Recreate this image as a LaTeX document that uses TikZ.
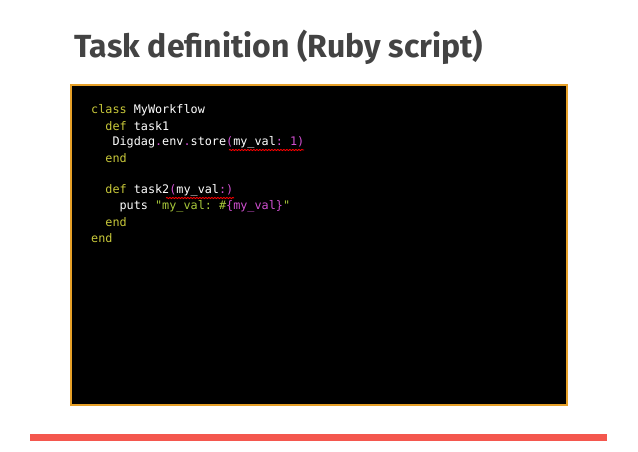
\documentclass[tikz,border=0pt]{standalone}
\usepackage{fontspec}
\setmainfont{Fira Sans}
\setmonofont{DejaVu Sans Mono}
\usetikzlibrary{decorations.pathmorphing}
\definecolor{kw}{HTML}{C9C93A}
\definecolor{mg}{HTML}{D04FD0}
\definecolor{st}{HTML}{A8C83A}
\definecolor{tt}{HTML}{434343}
\definecolor{bar}{HTML}{F4574E}
\newcommand{\K}[1]{\textcolor{kw}{#1}}
\newcommand{\M}[1]{\textcolor{mg}{#1}}
\newcommand{\Sg}[1]{\textcolor{st}{#1}}
\begin{document}
\begin{tikzpicture}[x=1pt,y=-1pt,
  code/.style={anchor=west,inner sep=0,text=white,font=\ttfamily\fontsize{11.8}{12}\selectfont},
  squig/.style={draw=red,line width=0.8pt,decorate,decoration={snake,amplitude=0.6pt,segment length=3pt}}]
\fill[white] (0,0) rectangle (638,451);
\node[anchor=west,inner sep=0,text=tt,font=\bfseries\fontsize{32}{34}\selectfont] (title) at (74,47) {Task definition (Ruby script)};
\draw[draw={rgb,255:red,230;green,160;blue,40},line width=1.5pt,fill=black] (71,85) rectangle (567,405);
\node[code] (l1) at (91,110) {\K{class} MyWorkflow};
\node[code] (l2) at (91,126) {\phantom{xx}\K{def} task1};
\node[code] (l3) at (91,142) {\phantom{xxx}Digdag\M{.}env\M{.}store\M{(}my\_val\M{:} \M{1)}};
\node[code] (l4) at (91,158) {\phantom{xx}\K{end}};
\node[code] (l5) at (91,190) {\phantom{xx}\K{def} task2\M{(}my\_val\M{:)}};
\node[code] (l6) at (91,206) {\phantom{xxxx}puts \Sg{"my\_val: \#}\M{\{my\_val\}}\Sg{"}};
\node[code] (l7) at (91,222) {\phantom{xx}\K{end}};
\node[code] (l8) at (91,238) {\K{end}};
\coordinate (u1a) at (229,150); \coordinate (u1b) at (304,150);
\coordinate (u2a) at (166,198); \coordinate (u2b) at (234,198);
\draw[squig] (u1a) -- (u1b);
\draw[squig] (u2a) -- (u2b);
\fill[bar] (30,434) rectangle (607,441);
\end{tikzpicture}
\end{document}
